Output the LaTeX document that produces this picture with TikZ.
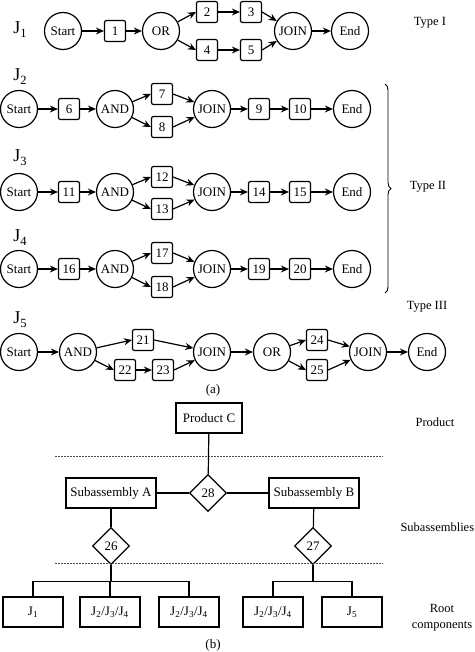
\documentclass[tikz,border=0pt]{standalone}
\usepackage{fontspec}
\setmainfont{Liberation Serif}
\usetikzlibrary{shapes.geometric,arrows.meta,decorations.pathreplacing}
\newcommand\JL[1]{{\fontsize{18}{20}\selectfont J}\raisebox{-4pt}{\fontsize{12.5}{14}\selectfont #1}}
\begin{document}
\begin{tikzpicture}[x=1pt,y=-1pt,
  every node/.style={font=\fontsize{12.5}{14}\selectfont},
  txt/.style={font=\fontsize{13}{15}\selectfont},
  circ/.style={circle,draw,line width=1.2pt,minimum size=37pt,inner sep=0pt,txt},
  task/.style={rectangle,draw,rounded corners=2pt,line width=1.2pt,minimum size=21pt,inner sep=1pt,txt},
  arr/.style={-{Stealth[length=8pt,width=7pt]},line width=1.2pt},
  box/.style={rectangle,draw,line width=1.2pt,minimum height=30pt,inner sep=2pt,txt},
  dia/.style={diamond,draw,line width=1.2pt,minimum size=37pt,inner sep=0pt,txt},
  tline/.style={line width=1.2pt},
  sep/.style={line width=0.8pt,dash pattern=on 1.5pt off 1.5pt,black!70}
]
\useasboundingbox (0,0) rectangle (474,652);

% ---------- J1 ----------
\node (j1) at (20,30) {\JL{1}};
\node[circ] (s1) at (63,31) {Start};
\node[task] (t1) at (115,31) {1};
\node[circ] (or1) at (161,31) {OR};
\node[task] (t2) at (207,12) {2};
\node[task] (t3) at (251,12) {3};
\node[task] (t4) at (207,50) {4};
\node[task] (t5) at (251,50) {5};
\node[circ] (jn1) at (293,31) {JOIN};
\node[circ] (e1) at (350,31) {End};
\node (ty1) at (430,23) {Type I};
\draw[arr] (s1) -- (t1);
\draw[arr] (t1) -- (or1);
\draw[arr] (or1) -- (t2.west);
\draw[arr] (or1) -- (t4.west);
\draw[arr] (t2) -- (t3);
\draw[arr] (t4) -- (t5);
\draw[arr] (t3.east) -- (jn1);
\draw[arr] (t5.east) -- (jn1);
\draw[arr] (jn1) -- (e1);

% ---------- J2 ----------
\node (j2) at (20,77) {\JL{2}};
\node[circ] (s2) at (19,109) {Start};
\node[task] (t6) at (69,109) {6};
\node[circ] (a2) at (115,109) {AND};
\node[task] (t7) at (162,94) {7};
\node[task] (t8) at (162,127) {8};
\node[circ] (jn2) at (212,109) {JOIN};
\node[task] (t9) at (259,109) {9};
\node[task] (t10) at (300,109) {10};
\node[circ] (e2) at (352,109) {End};
\draw[arr] (s2) -- (t6);
\draw[arr] (t6) -- (a2);
\draw[arr] (a2) -- (t7.west);
\draw[arr] (a2) -- (t8.west);
\draw[arr] (t7.east) -- (jn2);
\draw[arr] (t8.east) -- (jn2);
\draw[arr] (jn2) -- (t9);
\draw[arr] (t9) -- (t10);
\draw[arr] (t10) -- (e2);

% ---------- J3 ----------
\node (j3) at (20,158) {\JL{3}};
\node[circ] (s3) at (19,192) {Start};
\node[task] (t11) at (69,192) {11};
\node[circ] (a3) at (115,192) {AND};
\node[task] (t12) at (162,177) {12};
\node[task] (t13) at (162,209) {13};
\node[circ] (jn3) at (212,192) {JOIN};
\node[task] (t14) at (259,192) {14};
\node[task] (t15) at (300,192) {15};
\node[circ] (e3) at (352,192) {End};
\draw[arr] (s3) -- (t11);
\draw[arr] (t11) -- (a3);
\draw[arr] (a3) -- (t12.west);
\draw[arr] (a3) -- (t13.west);
\draw[arr] (t12.east) -- (jn3);
\draw[arr] (t13.east) -- (jn3);
\draw[arr] (jn3) -- (t14);
\draw[arr] (t14) -- (t15);
\draw[arr] (t15) -- (e3);

% ---------- J4 ----------
\node (j4) at (20,238) {\JL{4}};
\node[circ] (s4) at (19,269) {Start};
\node[task] (t16) at (69,269) {16};
\node[circ] (a4) at (115,269) {AND};
\node[task] (t17) at (162,253) {17};
\node[task] (t18) at (162,287) {18};
\node[circ] (jn4) at (212,269) {JOIN};
\node[task] (t19) at (259,269) {19};
\node[task] (t20) at (300,269) {20};
\node[circ] (e4) at (352,269) {End};
\draw[arr] (s4) -- (t16);
\draw[arr] (t16) -- (a4);
\draw[arr] (a4) -- (t17.west);
\draw[arr] (a4) -- (t18.west);
\draw[arr] (t17.east) -- (jn4);
\draw[arr] (t18.east) -- (jn4);
\draw[arr] (jn4) -- (t19);
\draw[arr] (t19) -- (t20);
\draw[arr] (t20) -- (e4);

% brace Type II
\coordinate (bt) at (385,84);
\coordinate (bb) at (385,293);
\draw[line width=0.9pt,decorate,decoration={brace,amplitude=6pt}] (bt) -- (bb);
\node (ty2) at (428,187) {Type II};

% ---------- J5 ----------
\node (ty3) at (427,307) {Type III};
\node (j5) at (20,320) {\JL{5}};
\node[circ] (s5) at (19,352) {Start};
\node[circ] (a5) at (78,352) {AND};
\node[task] (t21) at (143,340) {21};
\node[task] (t22) at (125,370) {22};
\node[task] (t23) at (163,370) {23};
\node[circ] (jn5) at (212,352) {JOIN};
\node[circ] (or5) at (272,352) {OR};
\node[task] (t24) at (317,340) {24};
\node[task] (t25) at (317,370) {25};
\node[circ] (jn6) at (368,352) {JOIN};
\node[circ] (e5) at (427,352) {End};
\draw[arr] (s5) -- (a5);
\draw[arr] (a5) -- (t21.west);
\draw[arr] (a5) -- (t22.west);
\draw[arr] (t21.east) -- (jn5);
\draw[arr] (t22) -- (t23);
\draw[arr] (t23.east) -- (jn5);
\draw[arr] (jn5) -- (or5);
\draw[arr] (or5) -- (t24.west);
\draw[arr] (or5) -- (t25.west);
\draw[arr] (t24.east) -- (jn6);
\draw[arr] (t25.east) -- (jn6);
\draw[arr] (jn6) -- (e5);
\node[txt] (capa) at (213,390) {(a)};

% ---------- (b) ----------
\node[box,minimum width=66pt] (pc) at (209,418) {Product C};
\node (lp) at (435,422) {Product};
\coordinate (d1a) at (55,456);
\coordinate (d1b) at (383,456);
\draw[sep] (d1a) -- (d1b);
\node[dia] (d28) at (208,493) {28};
\node[box,minimum width=90pt] (sa) at (111,493) {Subassembly A};
\node[box,minimum width=90pt] (sb) at (314,493) {Subassembly B};
\node[anchor=west] (ls) at (397,527) {Subassemblies};
\node[dia] (d26) at (111,546) {26};
\node[dia] (d27) at (313,546) {27};
\coordinate (d2a) at (55,563);
\coordinate (d2b) at (383,563);
\draw[sep] (d2a) -- (d2b);

\draw[tline] (pc) -- (d28);
\draw[tline] (sa) -- (d28);
\draw[tline] (d28) -- (sb);
\draw[tline] (sa) -- (d26);
\draw[tline] (sb) -- (d27);

\node[box,minimum width=60pt] (r1) at (33,612) {J\textsubscript{1}};
\node[box,minimum width=60pt] (r2) at (110,612) {J\textsubscript{2}/J\textsubscript{3}/J\textsubscript{4}};
\node[box,minimum width=60pt] (r3) at (189,612) {J\textsubscript{2}/J\textsubscript{3}/J\textsubscript{4}};
\node[box,minimum width=60pt] (r4) at (273,612) {J\textsubscript{2}/J\textsubscript{3}/J\textsubscript{4}};
\node[box,minimum width=60pt] (r5) at (352,612) {J\textsubscript{5}};
\node[align=center,font=\fontsize{12.5}{16}\selectfont] (lr) at (442,618) {Root\\components};
\node[txt] (capb) at (213,645) {(b)};

\draw[tline] (d26.south) -- (d26.south |- 0,582);
\draw[tline] (r1.north) -- ++(0,-15) -| (r3.north);
\draw[tline] (r2.north) -- ++(0,-15);
\draw[tline] (d27.south) -- (d27.south |- 0,582);
\draw[tline] (r4.north) -- ++(0,-15) -| (r5.north);
\end{tikzpicture}
\end{document}
